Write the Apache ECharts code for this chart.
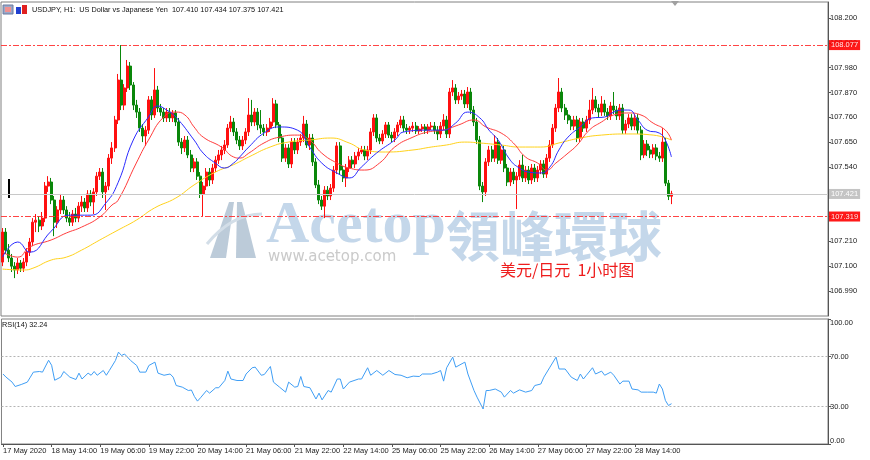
<!DOCTYPE html>
<html>
<head>
<meta charset="utf-8">
<script src="https://cdn.jsdelivr.net/npm/echarts@6/dist/echarts.min.js"></script>
<style>
  html, body { margin: 0; padding: 0; background: #fff; }
  #main { width: 870px; height: 460px; }
</style>
</head>
<body>
<div id="main"></div>
<script>
// USDJPY H1, candles: [open, close, low, high]
const candles = [
  [107.118,107.251,107.100,107.269],[107.251,107.171,107.154,107.269],[107.171,107.136,107.118,107.198],[107.136,107.100,107.074,107.154],
  [107.100,107.083,107.047,107.118],[107.083,107.114,107.065,107.136],[107.114,107.091,107.074,107.127],[107.091,107.118,107.074,107.136],
  [107.118,107.162,107.100,107.180],[107.162,107.207,107.145,107.225],[107.207,107.295,107.189,107.313],[107.295,107.304,107.251,107.331],
  [107.304,107.278,107.251,107.322],[107.278,107.313,107.260,107.340],[107.313,107.455,107.295,107.473],[107.455,107.473,107.429,107.499],
  [107.473,107.393,107.375,107.491],[107.393,107.295,107.233,107.411],[107.295,107.349,107.269,107.366],[107.349,107.393,107.331,107.420],
  [107.393,107.349,107.331,107.411],[107.349,107.313,107.295,107.366],[107.313,107.295,107.278,107.340],[107.295,107.331,107.278,107.349],
  [107.331,107.313,107.295,107.358],[107.313,107.366,107.295,107.384],[107.366,107.384,107.340,107.411],[107.384,107.358,107.340,107.402],
  [107.358,107.420,107.340,107.437],[107.420,107.384,107.366,107.437],[107.384,107.429,107.331,107.446],[107.429,107.499,107.411,107.517],
  [107.499,107.517,107.482,107.535],[107.517,107.429,107.402,107.535],[107.429,107.455,107.349,107.473],[107.455,107.579,107.437,107.597],
  [107.579,107.624,107.553,107.650],[107.624,107.748,107.606,107.766],[107.748,107.925,107.730,107.952],[107.925,107.814,107.792,108.080],
  [107.814,107.890,107.792,107.907],[107.890,107.987,107.872,108.014],[107.987,107.903,107.881,108.005],[107.903,107.814,107.792,107.916],
  [107.814,107.783,107.757,107.837],[107.783,107.712,107.695,107.801],[107.712,107.677,107.650,107.730],[107.677,107.703,107.633,107.721],
  [107.703,107.837,107.686,107.854],[107.837,107.770,107.748,107.854],[107.770,107.881,107.757,107.978],[107.881,107.801,107.783,107.899],
  [107.801,107.783,107.766,107.819],[107.783,107.757,107.739,107.801],[107.757,107.783,107.739,107.801],[107.783,107.757,107.739,107.801],
  [107.757,107.779,107.739,107.792],[107.779,107.739,107.721,107.792],[107.739,107.650,107.633,107.757],[107.650,107.624,107.597,107.668],
  [107.624,107.659,107.606,107.677],[107.659,107.593,107.579,107.677],[107.593,107.535,107.517,107.615],[107.535,107.562,107.517,107.579],
  [107.562,107.499,107.482,107.579],[107.499,107.420,107.402,107.517],[107.420,107.455,107.322,107.473],[107.455,107.517,107.437,107.535],
  [107.517,107.482,107.455,107.535],[107.482,107.535,107.464,107.553],[107.535,107.570,107.517,107.588],[107.570,107.593,107.553,107.615],
  [107.593,107.615,107.570,107.633],[107.615,107.637,107.597,107.659],[107.637,107.712,107.624,107.730],[107.712,107.739,107.695,107.766],
  [107.739,107.695,107.677,107.757],[107.695,107.659,107.641,107.712],[107.659,107.633,107.615,107.677],[107.633,107.659,107.615,107.677],
  [107.659,107.695,107.641,107.712],[107.695,107.770,107.677,107.845],[107.770,107.739,107.721,107.837],[107.739,107.783,107.721,107.801],
  [107.783,107.726,107.703,107.801],[107.726,107.712,107.686,107.792],[107.712,107.695,107.677,107.730],[107.695,107.712,107.677,107.730],
  [107.712,107.739,107.695,107.757],[107.739,107.819,107.721,107.845],[107.819,107.726,107.712,107.837],[107.726,107.668,107.650,107.739],
  [107.668,107.579,107.562,107.686],[107.579,107.624,107.562,107.641],[107.624,107.553,107.535,107.641],[107.553,107.650,107.535,107.668],
  [107.650,107.615,107.597,107.668],[107.615,107.650,107.597,107.668],[107.650,107.668,107.633,107.686],[107.668,107.730,107.650,107.766],
  [107.730,107.637,107.624,107.748],[107.637,107.668,107.615,107.686],[107.668,107.562,107.544,107.686],[107.562,107.460,107.446,107.579],
  [107.460,107.393,107.375,107.482],[107.393,107.366,107.349,107.411],[107.366,107.437,107.313,107.455],[107.437,107.411,107.393,107.455],
  [107.411,107.446,107.393,107.464],[107.446,107.526,107.429,107.544],[107.526,107.633,107.508,107.650],[107.633,107.526,107.508,107.650],
  [107.526,107.491,107.473,107.544],[107.491,107.535,107.451,107.553],[107.535,107.570,107.517,107.588],[107.570,107.553,107.535,107.588],
  [107.553,107.588,107.535,107.606],[107.588,107.606,107.570,107.624],[107.606,107.615,107.597,107.633],[107.615,107.588,107.570,107.633],
  [107.588,107.615,107.570,107.633],[107.615,107.695,107.597,107.712],[107.695,107.757,107.677,107.774],[107.757,107.668,107.650,107.774],
  [107.668,107.655,107.641,107.686],[107.655,107.686,107.641,107.703],[107.686,107.726,107.668,107.739],[107.726,107.681,107.668,107.739],
  [107.681,107.668,107.650,107.695],[107.668,107.695,107.650,107.712],[107.695,107.726,107.677,107.739],[107.726,107.748,107.712,107.766],
  [107.748,107.712,107.695,107.766],[107.712,107.703,107.686,107.730],[107.703,107.712,107.686,107.721],[107.712,107.721,107.695,107.739],
  [107.721,107.699,107.686,107.739],[107.699,107.708,107.686,107.721],[107.708,107.717,107.695,107.730],[107.717,107.703,107.686,107.730],
  [107.703,107.717,107.686,107.730],[107.717,107.721,107.703,107.739],[107.721,107.703,107.686,107.739],[107.703,107.686,107.659,107.721],
  [107.686,107.721,107.668,107.739],[107.721,107.748,107.703,107.774],[107.748,107.686,107.668,107.766],[107.686,107.872,107.668,107.890],
  [107.872,107.890,107.854,107.925],[107.890,107.837,107.819,107.907],[107.837,107.854,107.819,107.872],[107.854,107.863,107.837,107.881],
  [107.863,107.819,107.801,107.881],[107.819,107.872,107.801,107.894],[107.872,107.792,107.774,107.890],[107.792,107.739,107.721,107.810],
  [107.739,107.659,107.641,107.757],[107.659,107.455,107.437,107.677],[107.455,107.429,107.384,107.473],[107.429,107.562,107.411,107.579],
  [107.562,107.615,107.544,107.633],[107.615,107.579,107.562,107.633],[107.579,107.650,107.562,107.681],[107.650,107.570,107.553,107.668],
  [107.570,107.615,107.553,107.633],[107.615,107.535,107.517,107.633],[107.535,107.473,107.455,107.553],[107.473,107.517,107.455,107.535],
  [107.517,107.482,107.464,107.535],[107.482,107.499,107.353,107.517],[107.499,107.548,107.482,107.570],[107.548,107.491,107.473,107.593],
  [107.491,107.526,107.473,107.544],[107.526,107.482,107.464,107.544],[107.482,107.535,107.464,107.553],[107.535,107.491,107.473,107.553],
  [107.491,107.526,107.473,107.544],[107.526,107.553,107.508,107.570],[107.553,107.508,107.491,107.570],[107.508,107.579,107.491,107.597],
  [107.579,107.637,107.562,107.659],[107.637,107.712,107.624,107.730],[107.712,107.801,107.695,107.819],[107.801,107.872,107.783,107.934],
  [107.872,107.801,107.783,107.890],[107.801,107.770,107.748,107.819],[107.770,107.748,107.730,107.792],[107.748,107.721,107.703,107.766],
  [107.721,107.748,107.703,107.766],[107.748,107.668,107.650,107.766],[107.668,107.739,107.650,107.757],[107.739,107.712,107.695,107.757],
  [107.712,107.748,107.695,107.766],[107.748,107.792,107.730,107.837],[107.792,107.837,107.774,107.890],[107.837,107.801,107.783,107.854],
  [107.801,107.783,107.757,107.819],[107.783,107.819,107.766,107.854],[107.819,107.783,107.766,107.837],[107.783,107.766,107.748,107.801],
  [107.766,107.810,107.748,107.828],[107.810,107.792,107.774,107.872],[107.792,107.766,107.748,107.810],[107.766,107.801,107.748,107.819],
  [107.801,107.703,107.686,107.819],[107.703,107.730,107.686,107.748],[107.730,107.757,107.712,107.774],[107.757,107.721,107.703,107.774],
  [107.721,107.757,107.703,107.774],[107.757,107.703,107.686,107.774],[107.703,107.593,107.570,107.721],[107.593,107.641,107.579,107.659],
  [107.641,107.615,107.588,107.659],[107.615,107.597,107.579,107.633],[107.597,107.624,107.579,107.641],[107.624,107.588,107.570,107.641],
  [107.588,107.579,107.562,107.606],[107.579,107.650,107.562,107.712],[107.650,107.468,107.455,107.668],[107.468,107.410,107.393,107.482],
  [107.410,107.421,107.375,107.434]
];

// moving averages: [bar index, price]
const maFast = [
  [0,107.140],[5,107.207],[9,107.162],[16,107.255],[22,107.326],[29,107.326],[34,107.380],[38,107.470],[43,107.659],
  [48,107.761],[51,107.810],[54,107.792],[57,107.761],[63,107.659],[66,107.601],[70,107.557],[73,107.535],[76,107.557],
  [78,107.584],[81,107.628],[86,107.690],[91,107.717],[97,107.703],[101,107.628],[105,107.557],[110,107.513],[114,107.491],
  [118,107.539],[123,107.601],[129,107.659],[132,107.695],[140,107.703],[145,107.703],[149,107.734],[153,107.783],[157,107.757],
  [160,107.703],[163,107.659],[167,107.570],[170,107.535],[173,107.517],[177,107.513],[180,107.539],[183,107.615],[186,107.672],
  [190,107.717],[194,107.757],[198,107.761],[201,107.783],[204,107.792],[206,107.792],[209,107.748],[212,107.703],[216,107.690],
  [218,107.659],[220,107.584]
];
const maMid = [
  [0,107.162],[5,107.140],[9,107.185],[16,107.216],[21,107.247],[26,107.273],[32,107.318],[36,107.371],[38,107.392],
  [44,107.557],[48,107.659],[53,107.761],[57,107.783],[60,107.770],[63,107.717],[66,107.672],[72,107.628],[76,107.584],
  [78,107.579],[81,107.601],[86,107.646],[91,107.672],[97,107.681],[101,107.659],[105,107.601],[110,107.557],[114,107.535],
  [119,107.526],[124,107.557],[129,107.628],[135,107.672],[140,107.695],[145,107.703],[150,107.726],[155,107.748],[159,107.717],
  [164,107.690],[168,107.646],[172,107.584],[176,107.557],[179,107.526],[182,107.557],[186,107.601],[189,107.637],[193,107.703],
  [197,107.739],[201,107.770],[206,107.779],[210,107.770],[214,107.734],[218,107.703],[220,107.659]
];
const maSlow = [
  [0,107.087],[7,107.083],[10,107.091],[16,107.127],[21,107.140],[26,107.171],[32,107.216],[38,107.260],[44,107.304],
  [50,107.358],[57,107.402],[63,107.460],[70,107.517],[76,107.550],[81,107.584],[88,107.628],[94,107.650],[101,107.659],
  [108,107.668],[114,107.646],[119,107.615],[126,107.606],[135,107.615],[141,107.628],[146,107.637],[152,107.650],[157,107.646],
  [164,107.637],[170,107.628],[177,107.628],[183,107.646],[190,107.668],[197,107.681],[206,107.686],[214,107.681],[220,107.659]
];

// RSI(14): [bar index, value]
const rsi14 = [
  [0,56],[1,53.5],[3,49.5],[4,46],[6,47.6],[8,49.5],[9,53.5],[10,57.5],[12,58],[13,57.5],[15,67],[16,63],[17,51],[19,53.5],
  [20,58],[22,53.5],[24,51.6],[25,56.7],[26,52],[28,56.7],[29,55],[30,58],[31,55],[33,58.8],[34,55],[35,58.8],[37,66.8],
  [38,73.5],[39,70.8],[40,72],[42,66.8],[44,62.8],[45,57.5],[47,57.5],[48,62.8],[50,65.5],[51,56.7],[53,55],[55,56],[56,53.5],
  [57,46.8],[59,45.5],[61,42.8],[62,43.2],[63,38],[64,34.3],[65,37],[67,42.8],[68,40.7],[70,45],[71,45],[73,50.8],[74,58.3],
  [75,52],[77,50.8],[79,50.8],[80,56],[82,61],[83,61.5],[85,55],[86,55.6],[88,62],[89,49.5],[91,45.5],[93,41.5],[94,49.5],
  [96,45.5],[97,46],[98,54],[99,46],[101,45],[103,36],[104,40.7],[105,35.3],[107,42.8],[108,41.5],[110,52],[111,52],[112,44],
  [114,49.5],[117,52],[118,52],[120,61],[121,55],[123,58.8],[125,55],[127,58.8],[129,55.6],[131,55],[133,53],[135,54.3],
  [137,54],[138,56],[141,56],[143,57.5],[144,58.8],[145,50.3],[146,61],[148,69.5],[149,61.5],[152,65.5],[153,56],[155,42.8],
  [156,37.5],[158,28],[159,42.8],[160,42.8],[162,44],[164,41.5],[165,37.5],[167,42.8],[168,40.7],[170,43.3],[172,41.5],
  [174,42.8],[175,46.8],[177,48],[178,53.5],[180,61.5],[182,69.5],[183,60],[185,60],[187,53.5],[189,50.8],[190,56],[191,52],
  [192,55],[194,61],[195,56],[197,58.3],[198,55],[200,57.5],[201,55],[203,48],[204,50.3],[206,50.3],[207,44],[209,43.3],
  [210,41.5],[212,41.5],[214,41.5],[215,40.7],[216,48],[217,44],[218,34.8],[219,30.8],[220,32.24]
];

const tickLabels = ['17 May 2020','18 May 14:00','19 May 06:00','19 May 22:00','20 May 14:00','21 May 06:00','21 May 22:00',
  '22 May 14:00','25 May 06:00','25 May 22:00','26 May 14:00','27 May 06:00','27 May 22:00','28 May 14:00'];
const priceTicks = [108.200,108.090,107.980,107.870,107.760,107.650,107.540,107.430,107.320,107.210,107.100,106.990];
const rsiTicks = [0,30,70,100];
const levelLines = [108.077, 107.319];
const lastPrice = 107.421;
const rsiLevels = [70, 30];

const slots = 272;      // visible bar slots incl. empty space on the right
const labelStep = 16;   // one time label every 16 bars
const cats = [];
for (let i = 0; i < slots; i++) cats.push(String(i));

const font = 'Liberation Sans, Arial, sans-serif';
const wm = '#c4d7ea';

let chartDom = document.getElementById('main');
let myChart = echarts.init(chartDom);
let option;

option = {
  animation: false,
  backgroundColor: '#fff',
  grid: [
    { left: 1, right: 42, top: 2, height: 314, show: true, borderColor: '#808080', borderWidth: 1 },
    { left: 1, right: 42, top: 319, height: 125, show: true, borderColor: '#808080', borderWidth: 1 }
  ],
  xAxis: [
    {
      type: 'category', gridIndex: 0, data: cats, boundaryGap: true,
      axisLine: { show: false }, axisTick: { show: false }, axisLabel: { show: false }, splitLine: { show: false }
    },
    {
      type: 'category', gridIndex: 1, data: cats, boundaryGap: true,
      axisLine: { show: true, lineStyle: { color: '#555', width: 1 } },
      axisTick: {
        show: true, alignWithLabel: true, length: 3, lineStyle: { color: '#555' },
        interval: (i) => i % labelStep === 0 && i / labelStep < tickLabels.length
      },
      axisLabel: {
        show: true, align: 'left', margin: 3, fontSize: 7.5, fontFamily: font, color: '#222',
        interval: (i) => i % labelStep === 0 && i / labelStep < tickLabels.length,
        formatter: (v, i) => tickLabels[i / labelStep] || ''
      },
      splitLine: { show: false }
    }
  ],
  yAxis: [
    {
      type: 'value', gridIndex: 0, position: 'right', scale: true,
      min: 106.879, max: 108.271,
      axisLine: { show: true, lineStyle: { color: '#555' } },
      axisTick: { show: true, length: 3, customValues: priceTicks, lineStyle: { color: '#555' } },
      axisLabel: {
        customValues: priceTicks, margin: 2, fontSize: 7.5, fontFamily: font, color: '#222',
        formatter: (v) => v.toFixed(3)
      },
      splitLine: { show: false }
    },
    {
      type: 'value', gridIndex: 1, position: 'right', min: 0, max: 100,
      axisLine: { show: true, lineStyle: { color: '#555' } },
      axisTick: { show: true, length: 3, customValues: rsiTicks, lineStyle: { color: '#555' } },
      axisLabel: {
        customValues: rsiTicks, margin: 2, fontSize: 7.5, fontFamily: font, color: '#222',
        formatter: (v) => v === 100 ? '{top|100.00}' : v === 0 ? '{bot|0.00}' : v.toFixed(2),
        rich: {
          top: { fontSize: 7.5, fontFamily: font, color: '#222', padding: [8, 0, 0, 0] },
          bot: { fontSize: 7.5, fontFamily: font, color: '#222', padding: [0, 0, 6, 0] }
        }
      },
      splitLine: { show: false }
    }
  ],
  graphic: [
    // watermark
    { type: 'polygon', z: 0, silent: true, shape: { points: [[210,258],[229,202],[234,202],[226,258]] }, style: { fill: '#bccbd9' } },
    { type: 'polygon', z: 0, silent: true, shape: { points: [[236,258],[237,202],[242,202],[256,258]] }, style: { fill: '#bccbd9' } },
    { type: 'bezierCurve', z: 0, silent: true, shape: { x1: 207, y1: 244, x2: 262, y2: 214, cpx1: 225, cpy1: 222, cpx2: 245, cpy2: 214 },
      style: { stroke: '#d3dee8', lineWidth: 3, fill: null } },
    { type: 'text', z: 0, silent: true, x: 266, y: 226,
      style: { text: 'Acetop', font: 'bold 60px "Liberation Serif", serif', fill: wm, verticalAlign: 'middle' } },
    { type: 'text', z: 0, silent: true, x: 446, y: 236,
      style: { text: '領峰環球', font: 'bold 54px "Noto Sans CJK TC"', fill: wm, verticalAlign: 'middle' } },
    { type: 'text', z: 0, silent: true, x: 268, y: 257,
      style: { text: 'www.acetop.com', font: '15px "DejaVu Sans"', fill: '#cacaca', verticalAlign: 'middle' } },
    { type: 'text', z: 0, silent: true, x: 500, y: 270,
      style: { text: '美元/日元  1小时图', font: '16px "Noto Sans CJK SC"', fill: '#ee1c1c', verticalAlign: 'middle' } },
    // header
    { type: 'rect', z: 5, shape: { x: 3, y: 5, width: 10, height: 9 }, style: { fill: '#9aa8c8', stroke: '#6a7aa0', lineWidth: 1 } },
    { type: 'rect', z: 5, shape: { x: 5, y: 7, width: 6, height: 5 }, style: { fill: '#f09090' } },
    { type: 'rect', z: 5, shape: { x: 16, y: 7, width: 5, height: 7 }, style: { fill: '#2040d0' } },
    { type: 'rect', z: 5, shape: { x: 22, y: 5, width: 5, height: 9 }, style: { fill: '#e02020' } },
    { type: 'text', z: 5, x: 32, y: 10,
      style: { text: 'USDJPY, H1:  US Dollar vs Japanese Yen  107.410 107.434 107.375 107.421', font: '7.3px "Liberation Sans"', fill: '#111', verticalAlign: 'middle' } },
    { type: 'text', z: 5, x: 2, y: 325,
      style: { text: 'RSI(14) 32.24', font: '7.3px "Liberation Sans"', fill: '#111', verticalAlign: 'middle' } },
    // chart-shift marker and cursor mark
    { type: 'polygon', z: 5, shape: { points: [[671,1],[679,1],[675,6]] }, style: { fill: '#a0a0a0' } },
    { type: 'rect', z: 5, shape: { x: 8, y: 179, width: 2, height: 19 }, style: { fill: '#000' } }
  ],
  series: [
    {
      name: 'USDJPY', type: 'candlestick', xAxisIndex: 0, yAxisIndex: 0,
      data: candles, barWidth: 2.5,
      itemStyle: { color: '#ff1010', color0: '#0a870a', borderColor: '#ff1010', borderColor0: '#0a870a', borderWidth: 1 },
      markLine: {
        silent: true, symbol: ['none', 'none'], animation: false,
        data: levelLines.map((v) => ({
          yAxis: v,
          lineStyle: { color: '#ff3030', width: 1.2, type: [6, 2, 2, 2], opacity: 0.9 },
          label: {
            show: true, position: 'end', distance: 1, formatter: v.toFixed(3),
            backgroundColor: '#ff0000', color: '#fff', fontSize: 7.5, fontFamily: font, padding: [1, 2, 1, 2]
          }
        })).concat([{
          yAxis: lastPrice,
          lineStyle: { color: '#c8c8c8', width: 1, type: 'solid' },
          label: {
            show: true, position: 'end', distance: 1, formatter: lastPrice.toFixed(3),
            backgroundColor: '#c4c4c4', color: '#fff', fontSize: 7.5, fontFamily: font, padding: [1, 2, 1, 2]
          }
        }])
      }
    },
    {
      name: 'MA slow', type: 'line', xAxisIndex: 0, yAxisIndex: 0, data: maSlow, smooth: true,
      symbol: 'none', lineStyle: { color: '#ffd21a', width: 1 }
    },
    {
      name: 'MA mid', type: 'line', xAxisIndex: 0, yAxisIndex: 0, data: maMid, smooth: true,
      symbol: 'none', lineStyle: { color: '#ff3b3b', width: 1 }
    },
    {
      name: 'MA fast', type: 'line', xAxisIndex: 0, yAxisIndex: 0, data: maFast, smooth: true,
      symbol: 'none', lineStyle: { color: '#2a2aff', width: 1 }
    },
    {
      name: 'RSI(14)', type: 'line', xAxisIndex: 1, yAxisIndex: 1, data: rsi14,
      symbol: 'none', lineStyle: { color: '#3f9ef5', width: 1 },
      markLine: {
        silent: true, symbol: ['none', 'none'], animation: false, label: { show: false },
        lineStyle: { color: '#b4b4b4', width: 1, type: [2, 2] },
        data: rsiLevels.map((v) => ({ yAxis: v }))
      }
    }
  ]
};
myChart.setOption(option, true);
</script>
</body>
</html>
